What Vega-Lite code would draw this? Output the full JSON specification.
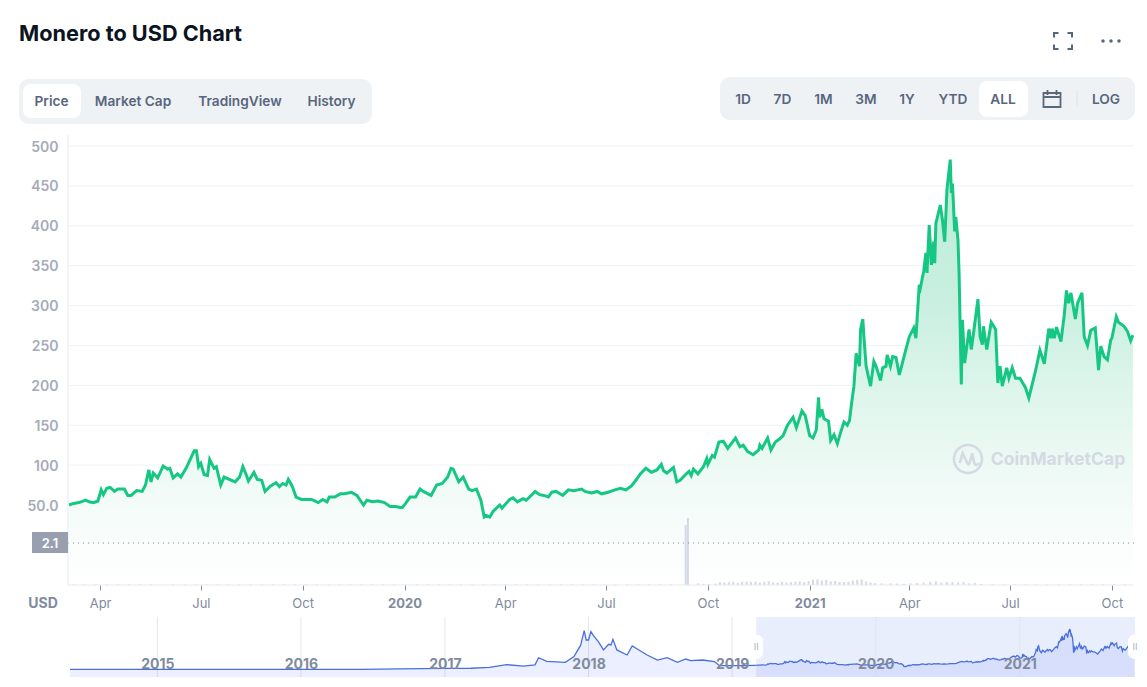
{
  "$schema": "https://vega.github.io/schema/vega-lite/v6.json",
  "width": 1147,
  "height": 687,
  "padding": 0,
  "autosize": {"type": "none"},
  "background": "#ffffff",
  "config": {
    "view": {"stroke": null},
    "font": "Inter",
    "axis": {"grid": false, "domain": false, "title": null, "labelOverlap": false, "labelFlush": false}
  },
  "datasets": {
    "price": [
      {"date":"2019-03-04","price":50},{"date":"2019-03-08","price":52},{"date":"2019-03-13","price":53},{"date":"2019-03-19","price":56},{"date":"2019-03-22","price":54},{"date":"2019-03-26","price":53},{"date":"2019-03-30","price":55},{"date":"2019-04-02","price":69},{"date":"2019-04-04","price":63},{"date":"2019-04-07","price":71},{"date":"2019-04-10","price":72},{"date":"2019-04-14","price":67},{"date":"2019-04-17","price":70},{"date":"2019-04-23","price":70},{"date":"2019-04-26","price":62},{"date":"2019-04-29","price":62},{"date":"2019-05-04","price":68},{"date":"2019-05-09","price":67},{"date":"2019-05-12","price":75},{"date":"2019-05-15","price":94},{"date":"2019-05-17","price":79},{"date":"2019-05-19","price":90},{"date":"2019-05-23","price":84},{"date":"2019-05-28","price":99},{"date":"2019-06-01","price":95},{"date":"2019-06-03","price":96},{"date":"2019-06-06","price":84},{"date":"2019-06-10","price":89},{"date":"2019-06-13","price":85},{"date":"2019-06-18","price":97},{"date":"2019-06-21","price":106},{"date":"2019-06-25","price":118},{"date":"2019-06-27","price":118},{"date":"2019-06-29","price":98},{"date":"2019-07-01","price":102},{"date":"2019-07-04","price":88},{"date":"2019-07-07","price":87},{"date":"2019-07-09","price":107},{"date":"2019-07-13","price":96},{"date":"2019-07-15","price":98},{"date":"2019-07-19","price":75},{"date":"2019-07-22","price":85},{"date":"2019-08-01","price":79},{"date":"2019-08-05","price":85},{"date":"2019-08-08","price":98},{"date":"2019-08-11","price":88},{"date":"2019-08-13","price":80},{"date":"2019-08-18","price":91},{"date":"2019-08-21","price":82},{"date":"2019-08-25","price":81},{"date":"2019-08-28","price":67},{"date":"2019-09-02","price":74},{"date":"2019-09-07","price":78},{"date":"2019-09-10","price":73},{"date":"2019-09-13","price":77},{"date":"2019-09-16","price":75},{"date":"2019-09-18","price":82},{"date":"2019-09-21","price":75},{"date":"2019-09-22","price":72},{"date":"2019-09-25","price":60},{"date":"2019-09-30","price":57},{"date":"2019-10-04","price":57},{"date":"2019-10-09","price":57},{"date":"2019-10-15","price":53},{"date":"2019-10-19","price":57},{"date":"2019-10-23","price":54},{"date":"2019-10-25","price":60},{"date":"2019-10-30","price":60},{"date":"2019-11-04","price":64},{"date":"2019-11-08","price":64},{"date":"2019-11-14","price":66},{"date":"2019-11-19","price":62},{"date":"2019-11-25","price":50},{"date":"2019-11-28","price":56},{"date":"2019-12-03","price":54},{"date":"2019-12-08","price":55},{"date":"2019-12-14","price":53},{"date":"2019-12-19","price":48},{"date":"2019-12-24","price":48},{"date":"2019-12-28","price":47},{"date":"2019-12-30","price":47},{"date":"2020-01-02","price":52},{"date":"2020-01-06","price":60},{"date":"2020-01-11","price":60},{"date":"2020-01-15","price":70},{"date":"2020-01-18","price":67},{"date":"2020-01-25","price":62},{"date":"2020-01-30","price":75},{"date":"2020-02-04","price":77},{"date":"2020-02-09","price":85},{"date":"2020-02-12","price":96},{"date":"2020-02-14","price":95},{"date":"2020-02-19","price":79},{"date":"2020-02-23","price":85},{"date":"2020-02-28","price":70},{"date":"2020-03-02","price":68},{"date":"2020-03-06","price":70},{"date":"2020-03-10","price":56},{"date":"2020-03-13","price":35},{"date":"2020-03-15","price":37},{"date":"2020-03-18","price":35},{"date":"2020-03-21","price":42},{"date":"2020-03-27","price":50},{"date":"2020-03-29","price":46},{"date":"2020-04-05","price":57},{"date":"2020-04-08","price":59},{"date":"2020-04-12","price":54},{"date":"2020-04-17","price":58},{"date":"2020-04-20","price":56},{"date":"2020-04-28","price":67},{"date":"2020-05-02","price":63},{"date":"2020-05-06","price":62},{"date":"2020-05-10","price":60},{"date":"2020-05-13","price":66},{"date":"2020-05-17","price":67},{"date":"2020-05-23","price":62},{"date":"2020-05-28","price":69},{"date":"2020-06-02","price":68},{"date":"2020-06-09","price":70},{"date":"2020-06-12","price":67},{"date":"2020-06-18","price":65},{"date":"2020-06-23","price":67},{"date":"2020-06-27","price":64},{"date":"2020-07-03","price":66},{"date":"2020-07-09","price":69},{"date":"2020-07-14","price":71},{"date":"2020-07-19","price":69},{"date":"2020-07-24","price":74},{"date":"2020-07-28","price":81},{"date":"2020-08-01","price":89},{"date":"2020-08-06","price":96},{"date":"2020-08-11","price":91},{"date":"2020-08-16","price":94},{"date":"2020-08-20","price":101},{"date":"2020-08-22","price":93},{"date":"2020-08-25","price":90},{"date":"2020-08-31","price":97},{"date":"2020-09-03","price":79},{"date":"2020-09-06","price":81},{"date":"2020-09-10","price":87},{"date":"2020-09-14","price":92},{"date":"2020-09-16","price":87},{"date":"2020-09-18","price":95},{"date":"2020-09-22","price":89},{"date":"2020-09-27","price":98},{"date":"2020-09-30","price":108},{"date":"2020-10-01","price":101},{"date":"2020-10-05","price":112},{"date":"2020-10-07","price":110},{"date":"2020-10-11","price":129},{"date":"2020-10-15","price":130},{"date":"2020-10-19","price":121},{"date":"2020-10-26","price":134},{"date":"2020-10-30","price":123},{"date":"2020-11-02","price":125},{"date":"2020-11-06","price":117},{"date":"2020-11-11","price":113},{"date":"2020-11-16","price":119},{"date":"2020-11-17","price":125},{"date":"2020-11-19","price":121},{"date":"2020-11-24","price":134},{"date":"2020-11-27","price":119},{"date":"2020-12-01","price":129},{"date":"2020-12-05","price":133},{"date":"2020-12-08","price":137},{"date":"2020-12-12","price":150},{"date":"2020-12-17","price":160},{"date":"2020-12-20","price":147},{"date":"2020-12-25","price":168},{"date":"2020-12-28","price":162},{"date":"2021-01-01","price":137},{"date":"2021-01-04","price":134},{"date":"2021-01-07","price":144},{"date":"2021-01-09","price":185},{"date":"2021-01-10","price":160},{"date":"2021-01-12","price":170},{"date":"2021-01-14","price":158},{"date":"2021-01-18","price":155},{"date":"2021-01-20","price":131},{"date":"2021-01-23","price":138},{"date":"2021-01-26","price":127},{"date":"2021-01-29","price":141},{"date":"2021-02-01","price":154},{"date":"2021-02-04","price":150},{"date":"2021-02-06","price":156},{"date":"2021-02-08","price":179},{"date":"2021-02-10","price":199},{"date":"2021-02-12","price":240},{"date":"2021-02-15","price":224},{"date":"2021-02-16","price":270},{"date":"2021-02-18","price":283},{"date":"2021-02-19","price":261},{"date":"2021-02-21","price":224},{"date":"2021-02-25","price":199},{"date":"2021-02-28","price":230},{"date":"2021-03-02","price":224},{"date":"2021-03-06","price":206},{"date":"2021-03-08","price":222},{"date":"2021-03-11","price":224},{"date":"2021-03-12","price":238},{"date":"2021-03-15","price":224},{"date":"2021-03-17","price":236},{"date":"2021-03-20","price":235},{"date":"2021-03-23","price":213},{"date":"2021-03-28","price":240},{"date":"2021-04-01","price":261},{"date":"2021-04-05","price":272},{"date":"2021-04-07","price":259},{"date":"2021-04-08","price":282},{"date":"2021-04-10","price":326},{"date":"2021-04-11","price":322},{"date":"2021-04-14","price":343},{"date":"2021-04-16","price":366},{"date":"2021-04-17","price":341},{"date":"2021-04-19","price":401},{"date":"2021-04-21","price":351},{"date":"2021-04-23","price":380},{"date":"2021-04-24","price":353},{"date":"2021-04-25","price":403},{"date":"2021-04-29","price":426},{"date":"2021-05-01","price":407},{"date":"2021-05-03","price":380},{"date":"2021-05-05","price":445},{"date":"2021-05-08","price":483},{"date":"2021-05-09","price":441},{"date":"2021-05-10","price":453},{"date":"2021-05-12","price":393},{"date":"2021-05-13","price":411},{"date":"2021-05-15","price":382},{"date":"2021-05-16","price":340},{"date":"2021-05-18","price":201},{"date":"2021-05-19","price":282},{"date":"2021-05-21","price":228},{"date":"2021-05-25","price":270},{"date":"2021-05-27","price":245},{"date":"2021-05-29","price":265},{"date":"2021-06-02","price":308},{"date":"2021-06-04","price":261},{"date":"2021-06-06","price":251},{"date":"2021-06-07","price":274},{"date":"2021-06-10","price":245},{"date":"2021-06-14","price":279},{"date":"2021-06-18","price":270},{"date":"2021-06-20","price":203},{"date":"2021-06-22","price":224},{"date":"2021-06-24","price":199},{"date":"2021-06-28","price":222},{"date":"2021-06-30","price":209},{"date":"2021-07-03","price":222},{"date":"2021-07-06","price":209},{"date":"2021-07-10","price":209},{"date":"2021-07-15","price":197},{"date":"2021-07-18","price":184},{"date":"2021-07-24","price":218},{"date":"2021-07-28","price":244},{"date":"2021-08-01","price":227},{"date":"2021-08-05","price":271},{"date":"2021-08-07","price":259},{"date":"2021-08-08","price":271},{"date":"2021-08-10","price":259},{"date":"2021-08-12","price":273},{"date":"2021-08-16","price":255},{"date":"2021-08-19","price":288},{"date":"2021-08-21","price":319},{"date":"2021-08-23","price":303},{"date":"2021-08-25","price":316},{"date":"2021-08-29","price":283},{"date":"2021-08-31","price":303},{"date":"2021-09-04","price":316},{"date":"2021-09-06","price":261},{"date":"2021-09-09","price":250},{"date":"2021-09-12","price":269},{"date":"2021-09-16","price":272},{"date":"2021-09-19","price":219},{"date":"2021-09-21","price":249},{"date":"2021-09-24","price":236},{"date":"2021-09-27","price":232},{"date":"2021-09-30","price":257},{"date":"2021-10-01","price":259},{"date":"2021-10-05","price":286},{"date":"2021-10-07","price":279},{"date":"2021-10-12","price":274},{"date":"2021-10-15","price":268},{"date":"2021-10-18","price":256},{"date":"2021-10-20","price":263}
    ],
    "history": [
      {"date":"2014-05-24","price":2},{"date":"2014-09-01","price":2},{"date":"2015-01-01","price":1},{"date":"2015-09-01","price":1},{"date":"2016-01-01","price":1},{"date":"2016-06-01","price":2},{"date":"2016-09-07","price":8},{"date":"2017-01-01","price":13},{"date":"2017-03-08","price":15},{"date":"2017-04-24","price":26},{"date":"2017-06-07","price":58},{"date":"2017-07-19","price":40},{"date":"2017-08-18","price":55},{"date":"2017-08-27","price":140},{"date":"2017-09-17","price":98},{"date":"2017-11-03","price":85},{"date":"2017-11-25","price":153},{"date":"2017-12-12","price":290},{"date":"2017-12-21","price":463},{"date":"2017-12-26","price":352},{"date":"2018-01-01","price":352},{"date":"2018-01-07","price":452},{"date":"2018-01-14","price":400},{"date":"2018-01-26","price":332},{"date":"2018-02-08","price":233},{"date":"2018-02-21","price":300},{"date":"2018-02-27","price":293},{"date":"2018-03-04","price":360},{"date":"2018-03-14","price":233},{"date":"2018-04-09","price":173},{"date":"2018-04-22","price":280},{"date":"2018-05-09","price":233},{"date":"2018-05-30","price":173},{"date":"2018-06-25","price":113},{"date":"2018-07-20","price":141},{"date":"2018-08-15","price":86},{"date":"2018-09-05","price":125},{"date":"2018-09-18","price":105},{"date":"2018-10-18","price":113},{"date":"2018-11-17","price":94},{"date":"2018-11-30","price":46},{"date":"2019-01-07","price":46},{"date":"2019-03-04","price":50}
    ],
    "volume": [
      {"date":"2019-03-08","vol":0.03},{"date":"2019-03-18","vol":0.03},{"date":"2019-03-28","vol":0.03},{"date":"2019-04-07","vol":0.03},{"date":"2019-04-17","vol":0.03},{"date":"2019-04-27","vol":0.03},{"date":"2019-05-07","vol":0.03},{"date":"2019-05-17","vol":0.03},{"date":"2019-06-06","vol":0.03},{"date":"2019-06-16","vol":0.03},{"date":"2019-06-26","vol":0.03},{"date":"2019-07-06","vol":0.03},{"date":"2019-07-16","vol":0.03},{"date":"2019-07-26","vol":0.03},{"date":"2019-08-05","vol":0.03},{"date":"2019-08-15","vol":0.03},{"date":"2019-08-25","vol":0.03},{"date":"2019-09-04","vol":0.03},{"date":"2019-09-14","vol":0.03},{"date":"2019-09-24","vol":0.03},{"date":"2019-10-04","vol":0.03},{"date":"2019-10-14","vol":0.03},{"date":"2019-10-24","vol":0.03},{"date":"2019-11-03","vol":0.03},{"date":"2019-11-13","vol":0.03},{"date":"2019-11-23","vol":0.03},{"date":"2019-12-03","vol":0.03},{"date":"2019-12-13","vol":0.03},{"date":"2019-12-23","vol":0.03},{"date":"2020-01-02","vol":0.03},{"date":"2020-01-12","vol":0.03},{"date":"2020-01-22","vol":0.03},{"date":"2020-02-01","vol":0.03},{"date":"2020-02-11","vol":0.03},{"date":"2020-02-21","vol":0.03},{"date":"2020-03-02","vol":0.03},{"date":"2020-03-12","vol":0.03},{"date":"2020-03-22","vol":0.03},{"date":"2020-04-01","vol":0.03},{"date":"2020-04-11","vol":0.03},{"date":"2020-04-21","vol":0.03},{"date":"2020-05-01","vol":0.03},{"date":"2020-05-11","vol":0.03},{"date":"2020-05-21","vol":0.03},{"date":"2020-05-31","vol":0.03},{"date":"2020-06-10","vol":0.03},{"date":"2020-06-20","vol":0.03},{"date":"2020-06-30","vol":0.03},{"date":"2020-07-10","vol":0.03},{"date":"2020-07-20","vol":0.03},{"date":"2020-07-30","vol":0.03},{"date":"2020-08-09","vol":0.03},{"date":"2020-08-19","vol":0.03},{"date":"2020-08-29","vol":0.03},{"date":"2020-09-11","vol":3.0},{"date":"2020-09-13","vol":3.35},{"date":"2020-09-22","vol":0.08},{"date":"2020-09-27","vol":0.06},{"date":"2020-10-02","vol":0.05},{"date":"2020-10-08","vol":0.07},{"date":"2020-10-12","vol":0.14},{"date":"2020-10-16","vol":0.12},{"date":"2020-10-20","vol":0.14},{"date":"2020-10-24","vol":0.16},{"date":"2020-10-28","vol":0.11},{"date":"2020-11-01","vol":0.16},{"date":"2020-11-05","vol":0.17},{"date":"2020-11-09","vol":0.15},{"date":"2020-11-13","vol":0.17},{"date":"2020-11-17","vol":0.12},{"date":"2020-11-21","vol":0.16},{"date":"2020-11-25","vol":0.18},{"date":"2020-11-29","vol":0.13},{"date":"2020-12-03","vol":0.12},{"date":"2020-12-07","vol":0.16},{"date":"2020-12-11","vol":0.12},{"date":"2020-12-15","vol":0.14},{"date":"2020-12-19","vol":0.17},{"date":"2020-12-23","vol":0.18},{"date":"2020-12-27","vol":0.14},{"date":"2020-12-31","vol":0.2},{"date":"2021-01-04","vol":0.26},{"date":"2021-01-08","vol":0.28},{"date":"2021-01-12","vol":0.22},{"date":"2021-01-16","vol":0.26},{"date":"2021-01-20","vol":0.18},{"date":"2021-01-24","vol":0.2},{"date":"2021-01-28","vol":0.15},{"date":"2021-02-01","vol":0.15},{"date":"2021-02-05","vol":0.17},{"date":"2021-02-09","vol":0.22},{"date":"2021-02-13","vol":0.26},{"date":"2021-02-17","vol":0.28},{"date":"2021-02-21","vol":0.18},{"date":"2021-02-25","vol":0.12},{"date":"2021-03-01","vol":0.09},{"date":"2021-03-07","vol":0.08},{"date":"2021-03-15","vol":0.08},{"date":"2021-03-21","vol":0.07},{"date":"2021-03-27","vol":0.06},{"date":"2021-04-02","vol":0.08},{"date":"2021-04-08","vol":0.1},{"date":"2021-04-14","vol":0.12},{"date":"2021-04-20","vol":0.16},{"date":"2021-04-25","vol":0.18},{"date":"2021-04-30","vol":0.12},{"date":"2021-05-05","vol":0.14},{"date":"2021-05-10","vol":0.15},{"date":"2021-05-15","vol":0.12},{"date":"2021-05-20","vol":0.14},{"date":"2021-05-25","vol":0.08},{"date":"2021-05-30","vol":0.1},{"date":"2021-06-05","vol":0.06},{"date":"2021-06-15","vol":0.04},{"date":"2021-06-25","vol":0.03},{"date":"2021-07-05","vol":0.03},{"date":"2021-07-15","vol":0.03},{"date":"2021-07-25","vol":0.03},{"date":"2021-08-04","vol":0.03},{"date":"2021-08-14","vol":0.03},{"date":"2021-08-24","vol":0.03},{"date":"2021-09-03","vol":0.03},{"date":"2021-09-13","vol":0.03},{"date":"2021-09-23","vol":0.03},{"date":"2021-10-03","vol":0.03},{"date":"2021-10-13","vol":0.03}
    ],
    "ticks": [{"tick":50},{"tick":100},{"tick":150},{"tick":200},{"tick":250},{"tick":300},{"tick":350},{"tick":400},{"tick":450},{"tick":500}],
    "years": [{"date":"2015-01-01"},{"date":"2016-01-01"},{"date":"2017-01-01"},{"date":"2018-01-01"},{"date":"2019-01-01"},{"date":"2020-01-01"},{"date":"2021-01-01"}],
    "single": [{"row":1}],
    "boxes": [
      {"name":"tabs","kind":"pill","from":0,"to":1},
      {"name":"ranges","kind":"pill","from":2,"to":3},
      {"name":"Price","kind":"active","from":4,"to":5},
      {"name":"ALL","kind":"active","from":6,"to":7},
      {"name":"tag","kind":"tag","from":8,"to":9}
    ],
    "labels": [
      {"label":"Monero to USD Chart","kind":"title","slot":10},
      {"label":"Price","kind":"tab","slot":11},
      {"label":"Market Cap","kind":"tab","slot":12},
      {"label":"TradingView","kind":"tab","slot":13},
      {"label":"History","kind":"tab","slot":14},
      {"label":"1D","kind":"tab","slot":15},
      {"label":"7D","kind":"tab","slot":16},
      {"label":"1M","kind":"tab","slot":17},
      {"label":"3M","kind":"tab","slot":18},
      {"label":"1Y","kind":"tab","slot":19},
      {"label":"YTD","kind":"tab","slot":20},
      {"label":"ALL","kind":"tab","slot":21},
      {"label":"LOG","kind":"tab","slot":22},
      {"label":"2.1","kind":"tag","slot":23},
      {"label":"USD","kind":"usd","slot":24},
      {"label":"CoinMarketCap","kind":"mark","slot":25}
    ],
    "icons": [
      {"icon":"calendar","slot":26},
      {"icon":"separator","slot":27},
      {"icon":"fullscreen","slot":28},
      {"icon":"dots","slot":29},
      {"icon":"logo","slot":30}
    ]
  },
  "resolve": {"scale": {"x": "independent", "y": "independent"}},
  "layer": [
    {
      "layer": [
        {
          "data": {"name": "ticks"},
          "mark": {"type": "rule", "color": "#eff2f5", "strokeWidth": 1},
          "encoding": {
            "x": {"datum": {"year":2019,"month":3,"date":3}, "type": "temporal", "scale": {"domain": [{"year":2019,"month":3,"date":3}, {"year":2021,"month":10,"date":21}], "range": [68, 1134]},
              "axis": {
                "orient": "bottom", "offset": -102, "tickSize": 5, "tickColor": "#808a9d", "labelColor": "#808a9d", "labelFontSize": 13, "labelPadding": 7,
                "labelFontWeight": {"condition": {"test": "month(datum.value) == 0", "value": "bold"}, "value": "normal"},
                "labelExpr": "month(datum.value) == 0 ? timeFormat(datum.value, '%Y') : timeFormat(datum.value, '%b')",
                "values": [
                  {"year":2019,"month":4,"date":1},{"year":2019,"month":7,"date":1},{"year":2019,"month":10,"date":1},
                  {"year":2020,"month":1,"date":1},{"year":2020,"month":4,"date":1},{"year":2020,"month":7,"date":1},{"year":2020,"month":10,"date":1},
                  {"year":2021,"month":1,"date":1},{"year":2021,"month":4,"date":1},{"year":2021,"month":7,"date":1},{"year":2021,"month":10,"date":1}
                ]
              }
            },
            "x2": {"datum": {"year":2021,"month":10,"date":21}},
            "y": {"field": "tick", "type": "quantitative", "scale": {"domain": [50, 500], "range": [505, 146], "nice": false, "zero": false},
              "axis": {
                "orient": "left", "offset": -68, "ticks": false, "labelColor": "#a5abb9", "labelFontSize": 14, "labelFontWeight": 600, "labelPadding": 10, "labelOffset": 1,
                "values": [50,100,150,200,250,300,350,400,450,500],
                "labelExpr": "datum.value == 50 ? '50.0' : format(datum.value, 'd')"
              }
            }
          }
        },
        {
          "data": {"name": "price"},
          "mark": {"type": "area", "color": {"gradient": "linear", "x1": 1, "y1": 0, "x2": 1, "y2": 1, "stops": [
            {"offset": 0, "color": "#bcecd8"}, {"offset": 0.33, "color": "#c8efdf"}, {"offset": 0.56, "color": "#dff6ec"}, {"offset": 0.8, "color": "#f3fbf8"}, {"offset": 1, "color": "#ffffff"}
          ]}},
          "encoding": {
            "x": {"field": "date", "type": "temporal"},
            "y": {"field": "price", "type": "quantitative"},
            "y2": {"datum": -50}
          }
        },
        {
          "data": {"name": "price"},
          "mark": {"type": "line", "color": "#16c784", "strokeWidth": 3},
          "encoding": {
            "x": {"field": "date", "type": "temporal"},
            "y": {"field": "price", "type": "quantitative"}
          }
        }
      ]
    },
    {
      "layer": [
        {
          "data": {"name": "volume"},
          "mark": {"type": "rule", "color": "#d3d9e5", "strokeWidth": 2},
          "encoding": {
            "x": {"field": "date", "type": "temporal", "scale": {"domain": [{"year":2019,"month":3,"date":3}, {"year":2021,"month":10,"date":21}], "range": [68, 1134]}, "axis": null},
            "y": {"field": "vol", "type": "quantitative", "scale": {"domain": [0, 3.5], "range": [585, 515], "nice": false}, "axis": null},
            "y2": {"datum": 0}
          }
        },
        {
          "data": {"name": "single"},
          "mark": {"type": "rule", "color": "#808a9d", "strokeWidth": 1, "strokeDash": [1, 4]},
          "encoding": {
            "x": {"datum": {"year":2019,"month":3,"date":3}, "type": "temporal"},
            "x2": {"datum": {"year":2021,"month":10,"date":21}},
            "y": {"datum": 2.1}
          }
        },
        {
          "data": {"name": "single"},
          "mark": {"type": "rule", "color": "#e6e9ef", "strokeWidth": 1},
          "encoding": {
            "x": {"datum": {"year":2019,"month":3,"date":3}, "type": "temporal"},
            "x2": {"datum": {"year":2021,"month":10,"date":21}},
            "y": {"datum": 0}
          }
        },
        {
          "data": {"name": "single"},
          "mark": {"type": "rule", "color": "#e6e9ef", "strokeWidth": 1},
          "encoding": {
            "x": {"datum": {"year":2019,"month":3,"date":3}, "type": "temporal"},
            "y": {"datum": 0},
            "y2": {"datum": 22.5}
          }
        }
      ]
    },
    {
      "layer": [
        {
          "data": {"name": "single"},
          "mark": {"type": "rect", "color": "#e9eefc"},
          "encoding": {
            "x": {"datum": {"year":2019,"month":3,"date":3}, "type": "temporal", "scale": {"domain": [{"year":2014,"month":5,"date":24}, {"year":2021,"month":10,"date":21}], "range": [70, 1135]},
              "axis": {"orient": "bottom", "offset": -23, "values": [
                {"year":2015,"month":1,"date":1},{"year":2016,"month":1,"date":1},{"year":2017,"month":1,"date":1},{"year":2018,"month":1,"date":1},{"year":2019,"month":1,"date":1},{"year":2020,"month":1,"date":1},{"year":2021,"month":1,"date":1}
              ], "format": "%Y", "ticks": false, "labelPadding": 0, "labelBaseline": "middle", "labelColor": "#808a9d", "labelFontSize": 14, "labelFontWeight": "bold", "zindex": 1}
            },
            "x2": {"datum": {"year":2021,"month":10,"date":21}},
            "y": {"datum": 626, "scale": {"domain": [-89.5, 626], "range": [677, 617], "nice": false, "zero": false}, "axis": null},
            "y2": {"datum": -89.5}
          }
        },
        {
          "data": {"name": "years"},
          "mark": {"type": "rule", "color": "#e3e7ef", "strokeWidth": 1},
          "encoding": {
            "x": {"field": "date", "type": "temporal"},
            "y": {"datum": 626},
            "y2": {"datum": -89.5}
          }
        },
        {
          "data": {"name": "history"},
          "mark": {"type": "area", "color": "#3861fb", "opacity": 0.1},
          "encoding": {
            "x": {"field": "date", "type": "temporal"},
            "y": {"field": "price", "type": "quantitative"},
            "y2": {"datum": -89.5}
          }
        },
        {
          "data": {"name": "price"},
          "mark": {"type": "area", "color": "#3861fb", "opacity": 0.1},
          "encoding": {
            "x": {"field": "date", "type": "temporal"},
            "y": {"field": "price", "type": "quantitative"},
            "y2": {"datum": -89.5}
          }
        },
        {
          "data": {"name": "history"},
          "mark": {"type": "line", "color": "#4a6fdc", "strokeWidth": 1.3},
          "encoding": {
            "x": {"field": "date", "type": "temporal"},
            "y": {"field": "price", "type": "quantitative"}
          }
        },
        {
          "data": {"name": "price"},
          "mark": {"type": "line", "color": "#4a6fdc", "strokeWidth": 1.3},
          "encoding": {
            "x": {"field": "date", "type": "temporal"},
            "y": {"field": "price", "type": "quantitative"}
          }
        },
        {
          "data": {"name": "single"},
          "mark": {"type": "rect", "color": "#ffffff", "width": 14, "height": 24, "cornerRadius": 6},
          "encoding": {
            "x": {"datum": {"year":2019,"month":3,"date":3}, "type": "temporal"},
            "y": {"datum": 270}
          }
        },
        {
          "data": {"name": "single"},
          "mark": {"type": "rect", "color": "#ffffff", "width": 14, "height": 24, "cornerRadius": 6},
          "encoding": {
            "x": {"datum": {"year":2021,"month":10,"date":21}, "type": "temporal"},
            "y": {"datum": 270}
          }
        },
        {
          "data": {"name": "single"},
          "mark": {"type": "text", "text": "II", "color": "#a6b0c3", "fontSize": 9},
          "encoding": {
            "x": {"datum": {"year":2019,"month":3,"date":3}, "type": "temporal"},
            "y": {"datum": 270}
          }
        },
        {
          "data": {"name": "single"},
          "mark": {"type": "text", "text": "II", "color": "#a6b0c3", "fontSize": 9},
          "encoding": {
            "x": {"datum": {"year":2021,"month":10,"date":21}, "type": "temporal"},
            "y": {"datum": 270}
          }
        }
      ]
    },
    {
      "layer": [
        {
          "data": {"name": "boxes"},
          "transform": [{"filter": "datum.kind == 'pill'"}],
          "mark": {"type": "rect", "color": "#eff2f5", "cornerRadius": 10},
          "encoding": {
            "x": {"field": "from", "type": "quantitative", "axis": null, "scale": {"zero": false, "nice": false,
              "domain": [0,1,2,3,4,5,6,7,8,9,10,11,12,13,14,15,16,17,18,19,20,21,22,23,24,25,26,27,28,29,30],
              "range": [19,372,720,1135,23,81,979,1028,32,68,130.5,51.5,133,240,331.5,743,782.5,823.5,866,907,953,1003,1106,50,43,1058,1052,1077,1063,1111,968]}},
            "x2": {"field": "to"},
            "y": {"field": "from", "type": "quantitative", "axis": null, "scale": {"zero": false, "nice": false,
              "domain": [0,1,2,3,4,5,6,7,8,9,10,11,12,13,14,15,16,17,18,19,20,21,22,23,24,25,26,27,28,29,30],
              "range": [79,124,77,120,84,118,81,117,532,553,34,102,102,102,102,100,100,100,100,100,100,100,100,544,604,460,99,99,41,41,459]}},
            "y2": {"field": "to"}
          }
        },
        {
          "data": {"name": "boxes"},
          "transform": [{"filter": "datum.kind == 'active'"}],
          "mark": {"type": "rect", "color": "#ffffff", "cornerRadius": 8},
          "encoding": {
            "x": {"field": "from", "type": "quantitative"},
            "x2": {"field": "to"},
            "y": {"field": "from", "type": "quantitative"},
            "y2": {"field": "to"}
          }
        },
        {
          "data": {"name": "boxes"},
          "transform": [{"filter": "datum.kind == 'tag'"}],
          "mark": {"type": "rect", "color": "#989fae"},
          "encoding": {
            "x": {"field": "from", "type": "quantitative"},
            "x2": {"field": "to"},
            "y": {"field": "from", "type": "quantitative"},
            "y2": {"field": "to"}
          }
        },
        {
          "data": {"name": "labels"},
          "transform": [{"filter": "datum.kind == 'title'"}],
          "mark": {"type": "text", "color": "#0d1421", "fontSize": 21.7, "fontWeight": 700},
          "encoding": {
            "x": {"field": "slot", "type": "quantitative"},
            "y": {"field": "slot", "type": "quantitative"},
            "text": {"field": "label"}
          }
        },
        {
          "data": {"name": "labels"},
          "transform": [{"filter": "datum.kind == 'tab'"}],
          "mark": {"type": "text", "color": "#58667e", "fontSize": 13.7, "fontWeight": 600},
          "encoding": {
            "x": {"field": "slot", "type": "quantitative"},
            "y": {"field": "slot", "type": "quantitative"},
            "text": {"field": "label"}
          }
        },
        {
          "data": {"name": "labels"},
          "transform": [{"filter": "datum.kind == 'tag'"}],
          "mark": {"type": "text", "color": "#ffffff", "fontSize": 13, "fontWeight": 600},
          "encoding": {
            "x": {"field": "slot", "type": "quantitative"},
            "y": {"field": "slot", "type": "quantitative"},
            "text": {"field": "label"}
          }
        },
        {
          "data": {"name": "labels"},
          "transform": [{"filter": "datum.kind == 'usd'"}],
          "mark": {"type": "text", "color": "#808a9d", "fontSize": 14, "fontWeight": 700},
          "encoding": {
            "x": {"field": "slot", "type": "quantitative"},
            "y": {"field": "slot", "type": "quantitative"},
            "text": {"field": "label"}
          }
        },
        {
          "data": {"name": "labels"},
          "transform": [{"filter": "datum.kind == 'mark'"}],
          "mark": {"type": "text", "color": "#d5dae2", "fontSize": 17.6, "fontWeight": 700},
          "encoding": {
            "x": {"field": "slot", "type": "quantitative"},
            "y": {"field": "slot", "type": "quantitative"},
            "text": {"field": "label"}
          }
        },
        {
          "data": {"name": "icons"},
          "transform": [{"filter": "datum.icon == 'calendar'"}],
          "mark": {"type": "point", "filled": false, "stroke": "#58667e", "strokeWidth": 1.8, "size": 400, "opacity": 1, "shape": "M-0.85,-0.6H0.85V0.8H-0.85Z M-0.85,-0.2H0.85 M-0.45,-0.9V-0.4 M0.45,-0.9V-0.4"},
          "encoding": {
            "x": {"field": "slot", "type": "quantitative"},
            "y": {"field": "slot", "type": "quantitative"}
          }
        },
        {
          "data": {"name": "icons"},
          "transform": [{"filter": "datum.icon == 'separator'"}],
          "mark": {"type": "point", "filled": false, "stroke": "#dce1e8", "strokeWidth": 1, "size": 400, "opacity": 1, "shape": "M0,-0.8V0.8"},
          "encoding": {
            "x": {"field": "slot", "type": "quantitative"},
            "y": {"field": "slot", "type": "quantitative"}
          }
        },
        {
          "data": {"name": "icons"},
          "transform": [{"filter": "datum.icon == 'fullscreen'"}],
          "mark": {"type": "point", "filled": false, "stroke": "#58667e", "strokeWidth": 2, "size": 400, "opacity": 1, "shape": "M-0.9,-0.35V-0.8H-0.45M0.45,-0.8H0.9V-0.35M0.9,0.35V0.8H0.45M-0.45,0.8H-0.9V0.35"},
          "encoding": {
            "x": {"field": "slot", "type": "quantitative"},
            "y": {"field": "slot", "type": "quantitative"}
          }
        },
        {
          "data": {"name": "icons"},
          "transform": [{"filter": "datum.icon == 'dots'"}],
          "mark": {"type": "point", "filled": true, "fill": "#58667e", "stroke": null, "size": 400, "opacity": 1, "shape": "M-0.63,0A0.17,0.17 0 1 1 -0.97,0A0.17,0.17 0 1 1 -0.63,0Z M0.17,0A0.17,0.17 0 1 1 -0.17,0A0.17,0.17 0 1 1 0.17,0Z M0.97,0A0.17,0.17 0 1 1 0.63,0A0.17,0.17 0 1 1 0.97,0Z"},
          "encoding": {
            "x": {"field": "slot", "type": "quantitative"},
            "y": {"field": "slot", "type": "quantitative"}
          }
        },
        {
          "data": {"name": "icons"},
          "transform": [{"filter": "datum.icon == 'logo'"}],
          "mark": {"type": "point", "filled": false, "stroke": "#d5dae2", "strokeWidth": 2.6, "size": 784, "opacity": 1, "shape": "M1,0A1,1 0 1 1 -1,0A1,1 0 1 1 1,0Z M-0.6,0.3L-0.38,-0.4L-0.05,0.3Q0.05,0.5 0.12,0.25L0.3,-0.4L0.45,0.3Q0.55,0.55 0.8,0.3"},
          "encoding": {
            "x": {"field": "slot", "type": "quantitative"},
            "y": {"field": "slot", "type": "quantitative"}
          }
        }
      ]
    }
  ]
}
